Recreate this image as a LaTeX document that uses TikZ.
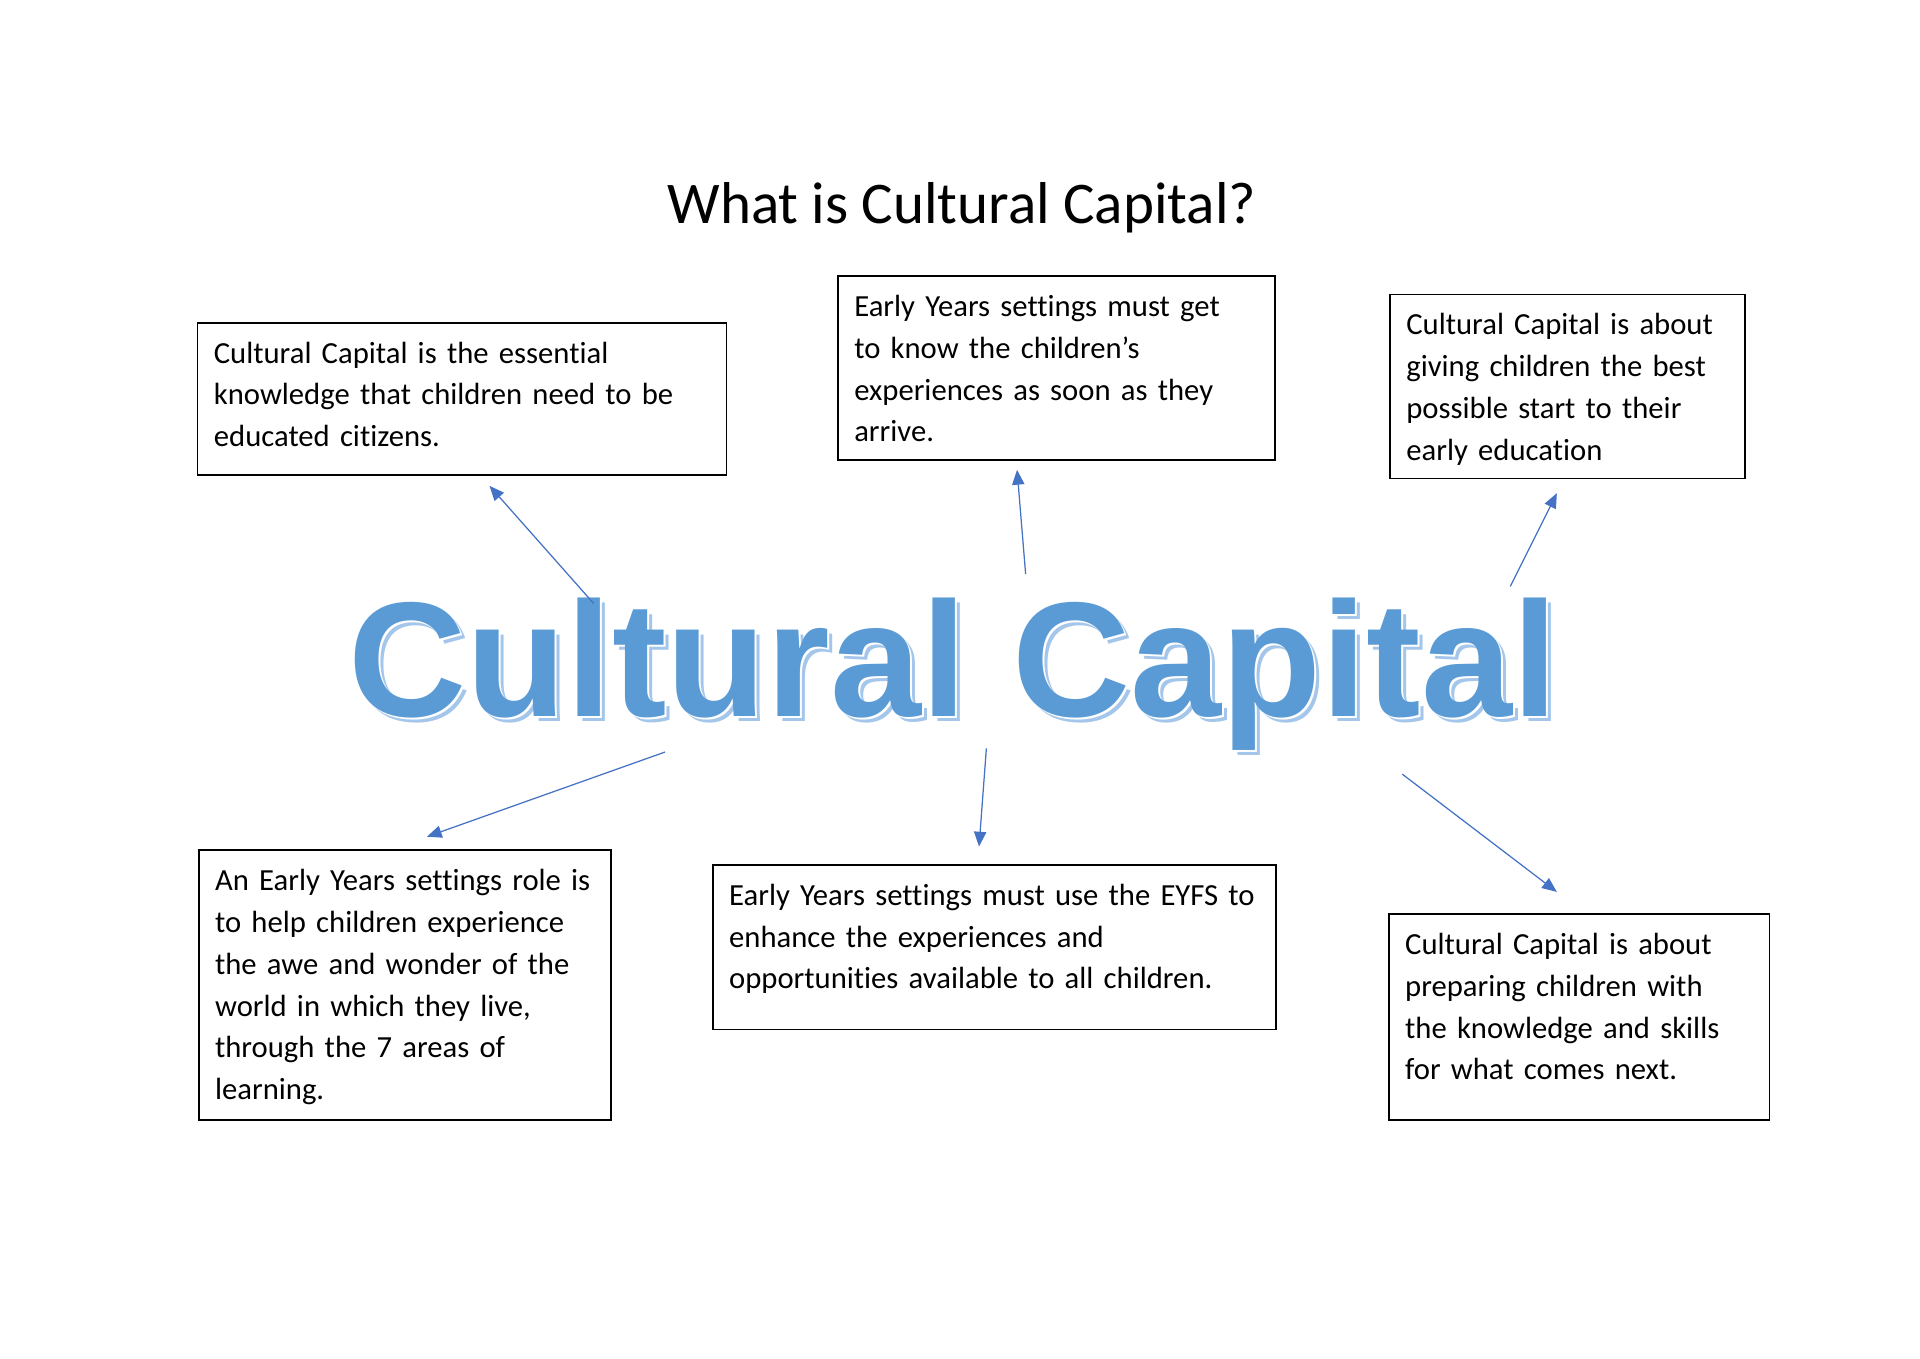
\documentclass[tikz,border=0pt]{standalone}
\usepackage{fontspec}
\setmainfont{Carlito}[Ligatures=NoCommon]
\newfontfamily\wordartfont{Liberation Sans}
\usetikzlibrary{arrows.meta}
\definecolor{artblue}{HTML}{5B9BD5}
\definecolor{artshadow}{HTML}{A4C6EA}
\definecolor{linkblue}{HTML}{4472C4}
\tikzset{
  infobox/.style={draw, line width=0.75pt, anchor=north west, align=left,
    outer sep=0pt, inner xsep=7.2pt, inner ysep=0pt, text height=17.8pt,
    font=\fontsize{13.5pt}{18.4pt}\selectfont},
  link/.style={linkblue, line width=0.55pt, -{Triangle[length=6.5pt,width=5.4pt]}},
  wordart/.style={anchor=base west, inner sep=0pt,
    font=\wordartfont\bfseries\fontsize{72pt}{72pt}\selectfont}
}
\begin{document}
\begin{tikzpicture}[x=0.18978mm,y=-0.18978mm]
        \useasboundingbox (0,0) rectangle (1565,1107);
        \node[anchor=base,font=\fontsize{26pt}{30pt}\selectfont](title) at (784,182){What is Cultural Capital?};

        % big word art in the middle
        \node[wordart,text=artshadow](ccshadow) at (288,588){Cultural Capital};
        \node[wordart,text=white](ccwhite) at (285.6,585.6){Cultural Capital};
        \node[wordart,text=artblue](cc) at (284,584){Cultural Capital};

        \node[infobox,text width=218.4pt,text depth=49.2pt](essential) at (161,263){Cultural Capital is the essential\\knowledge that children need to be\\educated citizens.};
        \node[infobox,text width=177.9pt,text depth=63.2pt](knowing) at (683,225){Early Years settings must get\\to know the children’s\\experiences as soon as they\\arrive.};
        \node[infobox,text width=141.7pt,text depth=63.2pt](beststart) at (1133,240){Cultural Capital is about\\giving children the best\\possible start to their\\early education};
        \node[infobox,text width=167.1pt,text depth=101pt](awe) at (162,693){An Early Years settings role is\\to help children experience\\the awe and wonder of the\\world in which they live,\\through the 7 areas of\\learning.};
        \node[infobox,text width=233.5pt,text depth=54.6pt](eyfs) at (581,705){Early Years settings must use the EYFS to\\enhance the experiences and\\opportunities available to all children.};
        \node[infobox,text width=153.1pt,text depth=72.9pt](nextstep) at (1132,745){Cultural Capital is about\\preparing children with\\the knowledge and skills\\for what comes next.};

        % arrows out of the word art
        \coordinate (s1) at (484,492); \coordinate (e1) at (399,396);
        \coordinate (s2) at (836,468); \coordinate (e2) at (829,383);
        \coordinate (s3) at (1231,478); \coordinate (e3) at (1269,402);
        \coordinate (s4) at (542,613); \coordinate (e4) at (348,682);
        \coordinate (s5) at (804,610); \coordinate (e5) at (798,690);
        \coordinate (s6) at (1143,631); \coordinate (e6) at (1269,727);
        \draw[link](s1)--(e1);
        \draw[link](s2)--(e2);
        \draw[link](s3)--(e3);
        \draw[link](s4)--(e4);
        \draw[link](s5)--(e5);
        \draw[link](s6)--(e6);
    \end{tikzpicture}
\end{document}
